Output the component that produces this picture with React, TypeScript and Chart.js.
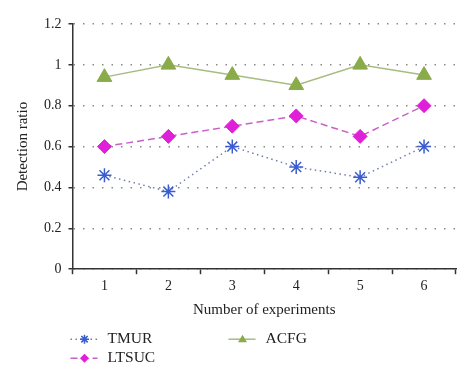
import React, { useEffect, useRef } from "react";
import { Chart, registerables } from "chart.js";

Chart.register(...registerables);

const categories = ["1", "2", "3", "4", "5", "6"];
const tmur = [0.46, 0.38, 0.6, 0.5, 0.45, 0.6];
const ltsuc = [0.6, 0.65, 0.7, 0.75, 0.65, 0.8];
const acfg = [0.94, 1.0, 0.95, 0.9, 1.0, 0.95];
const seriesNames = ["TMUR", "LTSUC", "ACFG"];

const FONT = "'Liberation Serif', 'Times New Roman', serif";

function drawMarker(ctx: CanvasRenderingContext2D, style: string, x: number, y: number, r: number, color: string) {
  ctx.save();
  ctx.fillStyle = color;
  ctx.strokeStyle = color;
  ctx.lineWidth = 1.5;
  ctx.setLineDash([]);
  ctx.beginPath();
  if (style === "star") {
    for (let a = 0; a < 4; a++) {
      const ang = (a * Math.PI) / 4;
      ctx.moveTo(x + Math.cos(ang) * r, y + Math.sin(ang) * r);
      ctx.lineTo(x - Math.cos(ang) * r, y - Math.sin(ang) * r);
    }
    ctx.stroke();
  } else if (style === "rectRot") {
    ctx.moveTo(x, y - r);
    ctx.lineTo(x + r, y);
    ctx.lineTo(x, y + r);
    ctx.lineTo(x - r, y);
    ctx.closePath();
    ctx.fill();
  } else {
    ctx.moveTo(x, y - r);
    ctx.lineTo(x + r, y + r * 0.7);
    ctx.lineTo(x - r, y + r * 0.7);
    ctx.closePath();
    ctx.fill();
  }
  ctx.restore();
}

const legendPlugin = {
  id: "customLegend",
  afterDraw(chart: any) {
    const ctx = chart.ctx;
    const area = chart.chartArea;
    const items = [
      { ds: 0, x: area.left - 2, y: area.bottom + 70 },
      { ds: 1, x: area.left - 2, y: area.bottom + 89 },
      { ds: 2, x: area.left + 156, y: area.bottom + 70 },
    ];
    ctx.save();
    for (const it of items) {
      const ds: any = chart.data.datasets[it.ds];
      ctx.beginPath();
      ctx.strokeStyle = ds.borderColor;
      ctx.lineWidth = ds.borderWidth;
      ctx.setLineDash(ds.borderDash || []);
      ctx.moveTo(it.x, it.y);
      ctx.lineTo(it.x + 27, it.y);
      ctx.stroke();
      ctx.setLineDash([]);
      drawMarker(ctx, ds.pointStyle, it.x + 14, it.y, 4.5, ds.pointBackgroundColor);
      ctx.fillStyle = "#222";
      ctx.font = `15.5px ${FONT}`;
      ctx.textBaseline = "middle";
      ctx.textAlign = "left";
      ctx.fillText(ds.label, it.x + 37, it.y);
    }
    ctx.restore();
  },
};

export default function App() {
  const ref = useRef<HTMLCanvasElement>(null);
  useEffect(() => {
    document.body.style.margin = "0";
    if (!ref.current) return;
    const chart = new Chart(ref.current, {
      type: "line",
      data: {
        labels: categories,
        datasets: [
          {
            label: seriesNames[0],
            data: tmur,
            borderColor: "#7080a8",
            borderWidth: 1.5,
            borderDash: [1.5, 3.5],
            pointStyle: "star",
            pointRadius: 7,
            pointBorderWidth: 1.5,
            pointBackgroundColor: "#3a5cd0",
            pointBorderColor: "#3a5cd0",
          },
          {
            label: seriesNames[1],
            data: ltsuc,
            borderColor: "#c860c8",
            borderWidth: 1.5,
            borderDash: [7, 4],
            pointStyle: "rectRot",
            pointRadius: 7,
            pointBorderWidth: 1,
            pointBackgroundColor: "#e020d8",
            pointBorderColor: "#e020d8",
          },
          {
            label: seriesNames[2],
            data: acfg,
            borderColor: "#a6bc80",
            borderWidth: 1.5,
            pointStyle: "triangle",
            pointRadius: 8.5,
            pointBorderWidth: 1,
            pointBackgroundColor: "#8aab4a",
            pointBorderColor: "#8aab4a",
          },
        ],
      },
      options: {
        animation: false,
        responsive: false,
        layout: { padding: { left: 14, right: 18, top: 24, bottom: 60 } },
        plugins: {
          legend: { display: false },
          tooltip: { enabled: false },
        },
        scales: {
          x: {
            type: "category",
            offset: true,
            grid: {
              drawOnChartArea: false,
              drawTicks: true,
              tickLength: 5,
              offset: true,
              tickColor: "#333",
              tickWidth: 1.5,
            },
            border: { color: "#333", width: 1.5 },
            ticks: { color: "#222", font: { family: FONT, size: 14 }, padding: 4 },
            title: {
              display: true,
              text: "Number of experiments",
              color: "#222",
              font: { family: FONT, size: 15 },
              padding: { top: 2, bottom: 0 },
            },
          },
          y: {
            min: 0,
            max: 1.2,
            ticks: {
              stepSize: 0.2,
              color: "#222",
              font: { family: FONT, size: 14 },
              padding: 7,
              callback: (v: any) => String(Math.round(Number(v) * 10) / 10),
            },
            grid: {
              color: "#8a8a8a",
              lineWidth: 1.5,
              drawTicks: true,
              tickLength: 4,
              tickColor: "#333",
              tickBorderDash: [],
              tickWidth: 1.5,
            },
            border: { color: "#333", width: 1.5, dash: [1.5, 8] },
            title: {
              display: true,
              text: "Detection ratio",
              color: "#222",
              font: { family: FONT, size: 15 },
              padding: { top: 0, bottom: 5 },
            },
          },
        },
      },
      plugins: [legendPlugin],
    });
    return () => chart.destroy();
  }, []);
  return (
    <div style={{ width: 474, height: 379 }}>
      <canvas ref={ref} width={474} height={379} />
    </div>
  );
}
